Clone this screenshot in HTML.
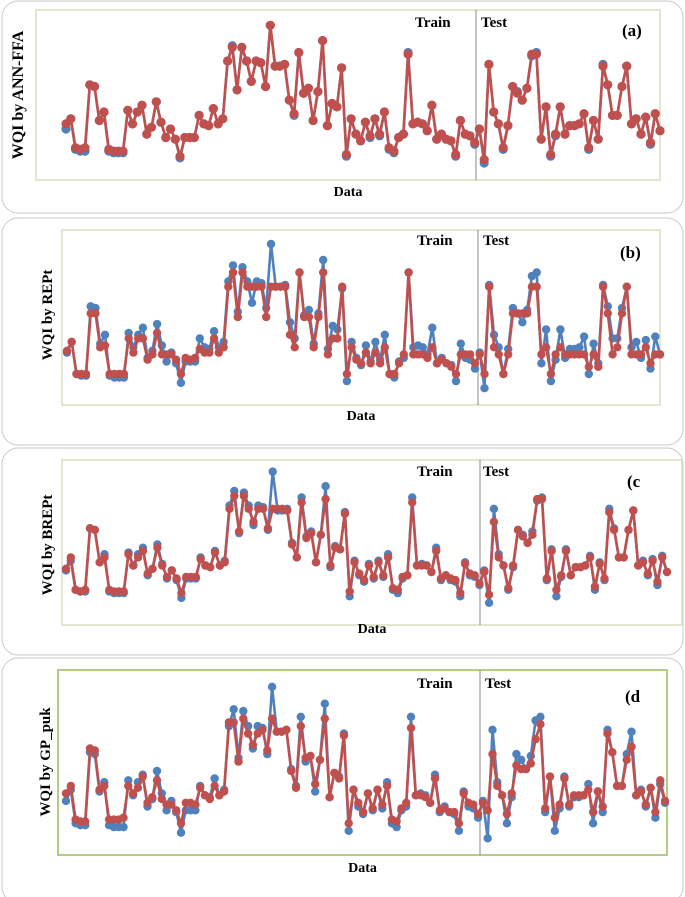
<!DOCTYPE html>
<html><head><meta charset="utf-8">
<style>
html,body{margin:0;padding:0;background:#fff;}
body{width:685px;height:897px;overflow:hidden;position:relative;font-family:"Liberation Serif",serif;}
svg{position:absolute;left:0;top:0;}
</style></head>
<body>
<svg id="chart" width="685" height="897"></svg>
<script>
const actual=[30,36,18,17,17,56,55,35,40,17,16,16,16,41,33,40,44,27,31,46,34,25,30,24,13,25,25,25,38,33,32,42,33,36,70,79,53,78,70,58,70,69,55,91,67,67,68,47,38,75,51,54,35,52,82,32,45,43,66,14,
36,27,23,34,25,36,26,40,18,16,25,27,75,33,34,33,29,44,24,27,24,23,14,35,27,26,21,30,
10,68,40,33,18,32,55,52,47,54,73,75,24,43,14,26,43,27,32,32,33,39,18,35,24,68,56,38,38,55,67,33,36,27,37,21,39,29];
const predA=[33,36,19,18,19,56,55,35,40,18,17,17,17,41,33,40,44,27,31,46,34,25,30,24,14,25,25,25,38,33,32,42,33,36,70,78,53,78,70,58,70,69,55,91,67,67,68,47,39,75,51,54,35,52,82,32,45,43,66,15,
36,27,23,34,26,36,27,40,19,17,25,27,74,33,34,33,29,44,24,27,24,23,15,35,27,26,22,30,
12,68,40,33,19,32,55,51,47,54,74,74,24,43,15,27,43,27,32,32,33,39,19,35,24,67,56,38,38,55,67,33,36,27,37,22,39,29];
const predB=[31,36,18,18,18,52,52,33,34,18,18,18,18,38,30,38,38,26,29,41,29,29,29,26,18,27,26,27,32,30,30,38,30,33,67,75,50,75,67,67,67,67,50,67,67,67,67,40,33,75,50,50,33,50,75,29,38,38,67,18,
33,26,24,30,24,30,24,33,18,18,24,29,75,29,29,29,27,33,24,26,24,22,18,29,29,29,24,29,
18,67,33,29,18,29,52,52,52,52,67,67,29,33,18,29,33,29,29,29,29,29,22,29,22,67,52,29,33,52,67,29,29,29,33,24,29,29];
const predC=[31,38,18,17,18,56,55,35,38,18,17,17,17,40,33,38,42,28,31,44,33,26,30,25,16,26,26,26,37,33,32,41,33,35,68,76,54,76,68,60,68,68,56,68,68,68,67,46,38,72,50,53,35,52,74,33,44,43,65,17,
35,28,24,33,26,35,27,38,19,18,26,27,72,33,33,33,29,42,25,27,25,24,16,34,28,27,22,29,
15,60,38,33,19,33,55,51,47,52,74,74,25,42,18,27,42,27,32,32,33,38,20,34,25,66,55,38,38,55,67,33,35,28,36,23,38,29];
const predD=[34,38,20,19,19,58,57,36,38,20,20,20,21,38,34,37,43,29,32,41,31,28,28,25,18,29,29,28,37,33,31,38,33,35,72,72,51,74,66,60,66,68,57,74,67,67,68,46,37,70,53,54,39,52,74,32,45,42,65,18,
36,29,24,34,26,36,28,38,20,19,26,29,69,33,33,32,29,42,25,26,24,24,18,34,29,28,23,29,
25,55,38,33,23,34,49,47,47,50,63,71,26,43,21,28,42,28,33,33,33,36,24,35,27,66,56,38,38,52,59,33,35,28,37,24,41,30];
const splitIndex=88;

const panels=[
 {id:'a',box:[2,1,681,212],fx:36,fy:10,fw:624,fh:170,x0:66,x1:660,y100:10,y0:180,div:476,frame:'#dcdcc0',
  ylab:'WQI by ANN-FFA',ylx:23,yly:95,ylsize:16,dataY:196,train:[415,27],test:[481,27],tag:'(a)',tagXY:[622,36],pred:predA,r:4.6},
 {id:'b',box:[2,218,681,227],fx:62,fy:230,fw:598,fh:175,x0:67,x1:660,y100:228,y0:406,div:478,frame:'#dcdcc0',
  ylab:'WQI by REPt',ylx:52,yly:315,ylsize:15,dataY:420,train:[417,245],test:[483,245],tag:'(b)',tagXY:[620,258],pred:predB,r:4.2},
 {id:'c',box:[2,448,681,207],fx:62,fy:460,fw:620,fh:165,x0:66,x1:667,y100:457,y0:619,div:480,frame:'#dcdcc0',
  ylab:'WQI by BREPt',ylx:52,yly:545,ylsize:15,dataY:633,train:[417,476],test:[483,476],tag:'(c',tagXY:[627,487],pred:predC,r:4.2},
 {id:'d',box:[2,658,681,245],fx:58,fy:670,fw:609,fh:185,x0:66,x1:665,y100:670,y0:857,div:480,frame:'#9bbb59',
  ylab:'WQI by GP_puk',ylx:50,yly:762,ylsize:15,dataY:872,train:[417,688],test:[485,688],tag:'(d',tagXY:[625,702],pred:predD,r:4.2}
];
const NS='http://www.w3.org/2000/svg';
const svg=document.getElementById('chart');
function mk(tag,attrs,parent){const e=document.createElementNS(NS,tag);for(const k in attrs)e.setAttribute(k,attrs[k]);(parent||svg).appendChild(e);return e;}
panels.forEach(p=>{
  const g=mk('g',{});
  
  
  const box=mk('rect',{x:p.box[0],y:p.box[1],width:p.box[2],height:p.box[3],rx:16,fill:'#fff',stroke:'#c8c8c8','stroke-width':1},g);
  
  
  const fr=mk('rect',{x:p.fx,y:p.fy,width:p.fw,height:p.fh,fill:'none',stroke:p.frame,'stroke-width':1.5},g);
  
  
  const n=actual.length;
  const xs=i=>p.x0+(p.x1-p.x0)*i/(n-1);
  const ys=v=>p.y0-(p.y0-p.y100)*v/100;
  const dv=mk('line',{x1:p.div,x2:p.div,y1:p.fy,y2:p.fy+p.fh,stroke:'#888','stroke-width':1},g);
  
  
  [[actual,'#4f81bd','actual-series'],[p.pred,'#c0504d','predicted-series']].forEach(([arr,col,nm])=>{
    const sg=mk('g',{},g);
    
    
    const d=arr.map((v,i)=>(i?'L':'M')+xs(i).toFixed(1)+','+ys(v).toFixed(1)).join('');
    const pl=mk('path',{d:d,fill:'none',stroke:col,'stroke-width':2.6,'stroke-linejoin':'round'},sg);
    
    
    arr.forEach((v,i)=>{
      const c=mk('circle',{cx:xs(i).toFixed(1),cy:ys(v).toFixed(1),r:p.r,fill:col},sg);
      
      
    });
  });
  const t=(txt,x,y,attrs,name)=>{const e=mk('text',Object.assign({x:x,y:y,'font-family':'"Liberation Serif",serif','font-weight':'bold','font-size':15,fill:'#000'},attrs||{}),g);e.textContent=txt;return e;};
  t(p.ylab,0,0,{transform:'translate('+p.ylx+','+p.yly+') rotate(-90)','text-anchor':'middle','font-size':p.ylsize},'y-axis-title');
  t('Data',(p.fx+p.fw/2),p.dataY,{'text-anchor':'middle','font-size':14},'x-axis-title');
  t('Train',p.train[0],p.train[1],{'font-size':15},'train-label');
  t('Test',p.test[0],p.test[1],{'font-size':15},'test-label');
  t(p.tag,p.tagXY[0],p.tagXY[1],{'font-size':17},'panel-tag');
});
</script>
</body></html>
